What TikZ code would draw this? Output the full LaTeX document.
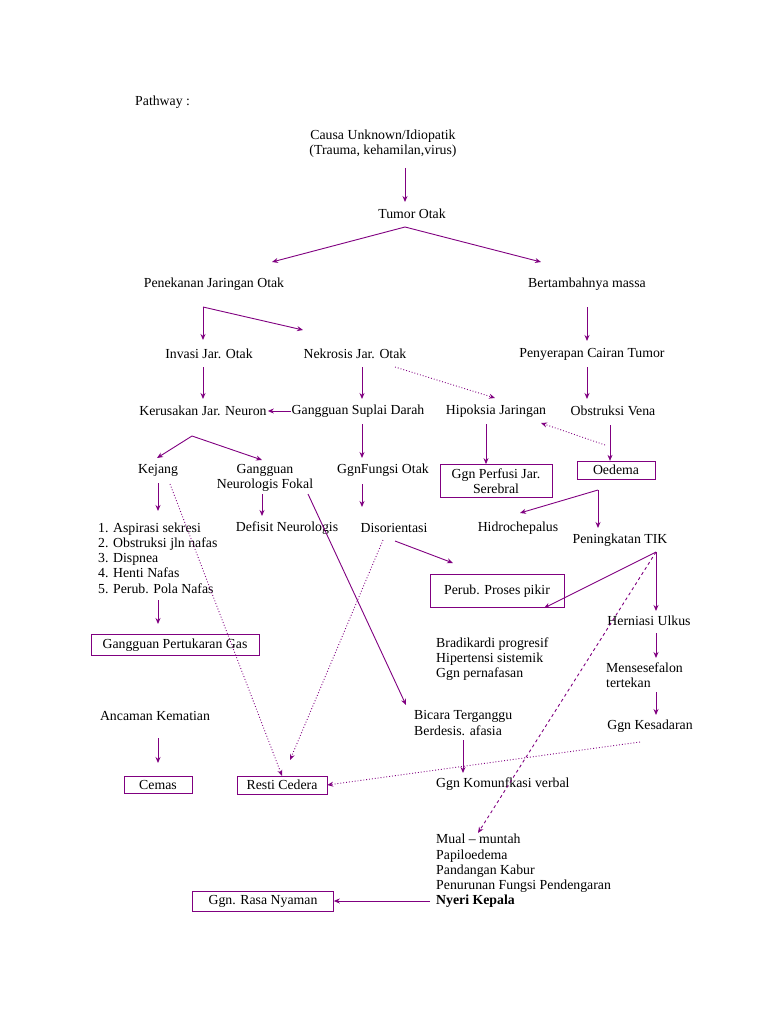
\documentclass[tikz,border=0pt]{standalone}
\usepackage{fontspec}
\setmainfont{Liberation Serif}
\usetikzlibrary{arrows.meta}
\definecolor{pp}{RGB}{128,0,128}
\begin{document}
\begin{tikzpicture}[x=1pt,y=-1pt,
  every node/.style={font=\fontsize{13.8}{15.3}\selectfont,inner sep=1pt},
  t/.style={align=center},
  l/.style={anchor=west,align=left},
  bx/.style={draw=pp,line width=0.6pt,inner xsep=6pt,inner ysep=4pt,align=center},
  ar/.style={draw=pp,line width=0.9pt,-{Stealth[length=6pt,width=5pt]}},
  dt/.style={ar,dotted},
  ds/.style={ar,dashed}]
\useasboundingbox (0,0) rectangle (768,1024);
\node[l] (pw) at (134,102) {Pathway :};
\node[t] (causa) at (383,144) {Causa Unknown/Idiopatik\\(Trauma, kehamilan,virus)};
\node[t] (tumor) at (412,214) {Tumor Otak};
\node[t] (pen) at (214,284) {Penekanan Jaringan Otak};
\node[t] (ber) at (587,284) {Bertambahnya massa};
\node[t] (inv) at (209,354) {Invasi Jar. Otak};
\node[t] (nek) at (355,354) {Nekrosis Jar. Otak};
\node[t] (peny) at (592,354) {Penyerapan Cairan Tumor};
\node[t] (ker) at (203,411) {Kerusakan Jar. Neuron};
\node[t] (gsd) at (358,411) {Gangguan Suplai Darah};
\node[t] (hip) at (496,411) {Hipoksia Jaringan};
\node[t] (obs) at (613,411) {Obstruksi Vena};
\node[bx,minimum width=78pt] (oed) at (616,470) {Oedema};
\node[bx,minimum width=112pt] (perf) at (496,481) {Ggn Perfusi Jar.\\Serebral};
\node[t] (kej) at (158,470) {Kejang};
\node[t] (gnf) at (265,478) {Gangguan\\Neurologis Fokal};
\node[t] (gfo) at (383,470) {GgnFungsi Otak};
\node[t] (hid) at (518,528) {Hidrochepalus};
\node[t] (tik) at (620,540) {Peningkatan TIK};
\node[t] (def) at (287,528) {Defisit Neurologis};
\node[t] (dis) at (394,528) {Disorientasi};
\node[l] (list) at (97,558) {1. Aspirasi sekresi\\2. Obstruksi jln nafas\\3. Dispnea\\4. Henti Nafas\\5. Perub. Pola Nafas};
\node[bx,minimum width=134pt,minimum height=33pt] (ppk) at (497,591) {Perub. Proses pikir};
\node[bx,minimum width=168pt] (gpg) at (175,645) {Gangguan Pertukaran Gas};
\node[l] (brad) at (435,659) {Bradikardi progresif\\Hipertensi sistemik\\Ggn pernafasan};
\node[t] (her) at (649,621) {Herniasi Ulkus};
\node[l] (mes) at (605,675) {Mensesefalon\\tertekan};
\node[t] (kes) at (650,726) {Ggn Kesadaran};
\node[t] (anc) at (155,716) {Ancaman Kematian};
\node[l] (bic) at (413,723) {Bicara Terganggu\\Berdesis. afasia};
\node[bx,minimum width=68pt] (cem) at (158,785) {Cemas};
\node[bx,minimum width=90pt] (res) at (282,785) {Resti Cedera};
\node[l] (kom) at (435,784) {Ggn Komunfkasi verbal};
\node[l] (mual) at (435,871) {Mual -- muntah\\Papiloedema\\Pandangan Kabur\\Penurunan Fungsi Pendengaran\\\textbf{Nyeri Kepala}};
\node[bx,minimum width=141pt] (rasa) at (263,901) {Ggn. Rasa Nyaman};
\coordinate (c1) at (405,168); \coordinate (c1b) at (405,202);
\draw[ar] (c1) -- (c1b);
\coordinate (t0) at (405,227);
\draw[ar] (t0) -- (272,262); \draw[ar] (t0) -- (541,262);
\coordinate (p0) at (203,307);
\draw[ar] (p0) -- (203,340); \draw[ar] (p0) -- (303,330);
\draw[ar] (587,307) -- (587,341);
\draw[ar] (203,367) -- (203,399);
\draw[ar] (362,367) -- (362,399);
\draw[dt] (395,367) -- (495,398);
\draw[ar] (587,367) -- (587,399);
\draw[ar] (gsd.west) -- (ker.east);
\draw[dt] (605,445) -- (541,423);
\draw[ar] (610,425) -- (oed.north-|610,0);
\draw[ar] (486,424) -- (perf.north-|486,0);
\coordinate (o0) at (598,490);
\draw[ar] (o0) -- (520,513); \draw[ar] (o0) -- (598,528);
\coordinate (k0) at (192,436);
\draw[ar] (k0) -- (157,458); \draw[ar] (k0) -- (262,460);
\draw[ar] (158,483) -- (158,511);
\draw[dt] (170,484) -- (res.north);
\draw[ar] (262,494) -- (262,516);
\draw[ar] (308,494) -- (406,705);
\draw[ar] (362,424) -- (362,458);
\draw[ar] (362,484) -- (362,507);
\draw[dt] (383,540) -- (290,760);
\draw[ar] (395,541) -- (453,563);
\coordinate (tk) at (656,552);
\draw[ar] (tk) -- (544,608); \draw[ar] (tk) -- (656,611); \draw[ds] (tk) -- (478,833);
\draw[ar] (158,600) -- (158,624);
\draw[ar] (656,633) -- (656,658);
\draw[ar] (656,692) -- (656,715);
\draw[dt] (640,742) -- (res.east);
\draw[ar] (158,738) -- (158,763);
\draw[ar] (463,740) -- (463,773);
\draw[ar] (430,901) -- (rasa.east);
\end{tikzpicture}
\end{document}
